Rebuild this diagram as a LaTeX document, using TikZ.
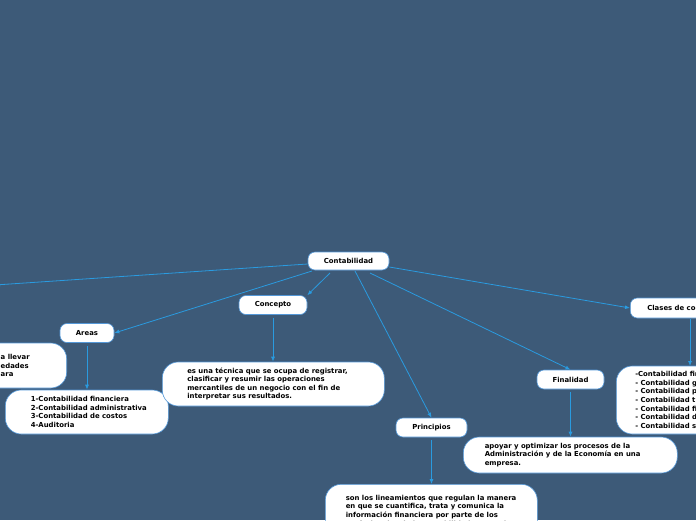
\documentclass[tikz,border=0pt]{standalone}
\usepackage{fontspec}
\setmainfont{DejaVu Sans}
\usetikzlibrary{arrows.meta}
\begin{document}
\begin{tikzpicture}[x=1pt,y=-1pt,
  box/.style={draw=cyan!60!blue!70, line width=0.6pt, fill=white, rounded corners=9pt, inner sep=0pt, font=\bfseries\fontsize{6.9}{8.6}\selectfont},
  small/.style={box, rounded corners=7pt, align=center},
  big/.style={box, rounded corners=16pt, align=left},
  con/.style={draw=lnk, line width=0.8pt, -{Latex[length=5pt,width=4pt]}}]
\definecolor{bg}{HTML}{3D5A78}
\definecolor{lnk}{HTML}{2A9BE0}
\useasboundingbox (0,0) rectangle (696,520);
\clip (0,0) rectangle (696,520);
\fill[bg] (0,0) rectangle (696,520);
\node[small, minimum width=81pt, minimum height=18pt] (cont) at (348.5,261) {Contabilidad};
\node[small, minimum width=68pt, minimum height=19pt] (conc) at (273,305) {Concepto};
\node[small, minimum width=54pt, minimum height=19pt] (areas) at (87,333) {Areas};
\node[small, minimum width=71pt, minimum height=19pt] (prin) at (431.5,427.5) {Principios};
\node[small, minimum width=67pt, minimum height=19pt] (fin) at (570.5,379.5) {Finalidad};
\node[small, minimum width=90pt, minimum height=20pt, anchor=west] (clas) at (630,308) {\hspace*{17pt}Clases de contabilidad\hspace*{10pt}};
\coordinate (off) at (-5,285);
\node[big, minimum width=120pt, minimum height=45pt, anchor=east] (left) at (67,365.5) {\parbox{120pt}{\hspace*{54pt}a llevar\\ \hspace*{54pt}edades\\ \hspace*{54pt}ara}};
\node[big, minimum width=163pt, minimum height=44pt, anchor=west] (ac) at (5,412) {\hspace*{23pt}\parbox{135pt}{1-Contabilidad financiera\\2-Contabilidad administrativa\\3-Contabilidad de costos\\4-Auditoria}};
\node[big, minimum width=222pt, minimum height=44pt, anchor=west] (cc) at (162,384) {\hspace*{23pt}\parbox{195pt}{es una técnica que se ocupa de registrar,\\clasificar y resumir las operaciones\\mercantiles de un negocio con el fin de\\interpretar sus resultados.}};
\node[big, minimum width=214pt, minimum height=36pt, anchor=west] (fc) at (463,455) {\hspace*{19pt}\parbox{190pt}{apoyar y optimizar los procesos de la\\Administración y de la Economía en una\\empresa.}};
\node[big, minimum width=140pt, minimum height=68pt, anchor=west] (clc) at (616,400) {\hspace*{18pt}\parbox{120pt}{-Contabilidad financiera\\- Contabilidad general\\- Contabilidad privada\\- Contabilidad tributaria\\- Contabilidad fiscal\\- Contabilidad de costos\\- Contabilidad social}};
\node[big, minimum width=212pt, minimum height=60pt, anchor=north west] (pc) at (325,484) {\hspace*{19pt}\parbox[t]{190pt}{\vspace*{1pt}son los lineamientos que regulan la manera\\en que se cuantifica, trata y comunica la\\información financiera por parte de los\\profesionales de la contabilidad, se puede\\ }};
\draw[con] (cont.west|-0,264) -- (off);
\draw[con] (330,273) -- (conc.north east);
\draw[con] (312,271) -- (areas.east);
\draw[con] (355,271) -- (prin.north);
\draw[con] (370,273) -- (fin.north);
\draw[con] (cont.east) ++(0,6) -- (clas.west);
\draw[con] (conc.south) ++(0,3) -- (cc.north-|conc.south);
\draw[con] (areas.south) ++(0,3) -- (ac.north-|areas.south);
\draw[con] (prin.south) ++(0,3) -- (pc.north-|prin.south);
\draw[con] (fin.south) ++(0,3) -- (fc.north-|fin.south);
\draw[con] (690,319) -- (690,366);
\end{tikzpicture}
\end{document}
